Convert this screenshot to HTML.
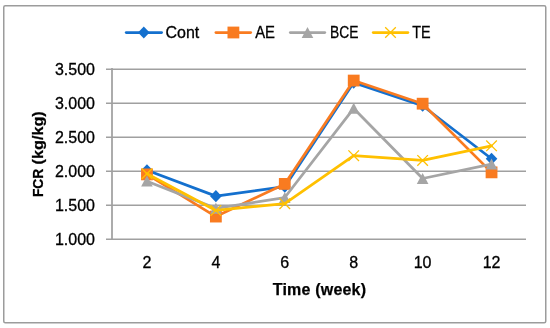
<!DOCTYPE html>
<html><head><meta charset="utf-8"><style>
html,body{margin:0;padding:0;background:#fff;}
svg{display:block;}
.t{font-family:"Liberation Sans",Arial,sans-serif;font-size:16px;fill:#000;stroke:#000;stroke-width:0.3px;}
.b{font-family:"Liberation Sans",Arial,sans-serif;font-size:15.5px;font-weight:bold;fill:#000;stroke:#000;stroke-width:0.25px;}
.x{letter-spacing:0.2px;font-size:16px;}
</style></head><body>
<svg width="550" height="328" viewBox="0 0 550 328">
<rect x="3.75" y="5.75" width="542" height="317" rx="1.5" fill="#fff" stroke="#9C9C9C" stroke-width="1.5"/>
<line x1="106" y1="69.20" x2="526.0" y2="69.20" stroke="#A0A0A0" stroke-width="1.55"/>
<text x="95" y="74.60" text-anchor="end" class="t">3.500</text>
<line x1="106" y1="103.20" x2="526.0" y2="103.20" stroke="#A0A0A0" stroke-width="1.55"/>
<text x="95" y="108.60" text-anchor="end" class="t">3.000</text>
<line x1="106" y1="137.20" x2="526.0" y2="137.20" stroke="#A0A0A0" stroke-width="1.55"/>
<text x="95" y="142.60" text-anchor="end" class="t">2.500</text>
<line x1="106" y1="171.20" x2="526.0" y2="171.20" stroke="#A0A0A0" stroke-width="1.55"/>
<text x="95" y="176.60" text-anchor="end" class="t">2.000</text>
<line x1="106" y1="205.20" x2="526.0" y2="205.20" stroke="#A0A0A0" stroke-width="1.55"/>
<text x="95" y="210.60" text-anchor="end" class="t">1.500</text>
<line x1="106" y1="239.20" x2="526.0" y2="239.20" stroke="#A0A0A0" stroke-width="1.55"/>
<text x="95" y="244.60" text-anchor="end" class="t">1.000</text>
<line x1="112" y1="68.10" x2="112" y2="239.90" stroke="#A0A0A0" stroke-width="1.75"/>
<text x="146.96" y="267.8" text-anchor="middle" class="t">2</text>
<text x="215.88" y="267.8" text-anchor="middle" class="t">4</text>
<text x="284.79" y="267.8" text-anchor="middle" class="t">6</text>
<text x="353.71" y="267.8" text-anchor="middle" class="t">8</text>
<text x="422.62" y="267.8" text-anchor="middle" class="t">10</text>
<text x="491.54" y="267.8" text-anchor="middle" class="t">12</text>
<polyline points="146.96,170.32 215.88,196.16 284.79,186.64 353.71,82.60 422.62,105.72 491.54,158.76" fill="none" stroke="#1470CE" stroke-width="2.75" stroke-linejoin="round" stroke-linecap="round"/>
<polygon points="146.96,164.22 152.76,170.32 146.96,176.42 141.16,170.32" fill="#1470CE"/>
<polygon points="215.88,190.06 221.68,196.16 215.88,202.26 210.07,196.16" fill="#1470CE"/>
<polygon points="284.79,180.54 290.59,186.64 284.79,192.74 278.99,186.64" fill="#1470CE"/>
<polygon points="353.71,76.50 359.51,82.60 353.71,88.70 347.91,82.60" fill="#1470CE"/>
<polygon points="422.62,99.62 428.43,105.72 422.62,111.82 416.82,105.72" fill="#1470CE"/>
<polygon points="491.54,152.66 497.34,158.76 491.54,164.86 485.74,158.76" fill="#1470CE"/>
<polyline points="146.96,174.40 215.88,216.56 284.79,183.92 353.71,80.56 422.62,103.68 491.54,172.36" fill="none" stroke="#F97B20" stroke-width="2.75" stroke-linejoin="round" stroke-linecap="round"/>
<rect x="141.06" y="168.50" width="11.8" height="11.8" fill="#F97B20"/>
<rect x="209.97" y="210.66" width="11.8" height="11.8" fill="#F97B20"/>
<rect x="278.89" y="178.02" width="11.8" height="11.8" fill="#F97B20"/>
<rect x="347.81" y="74.66" width="11.8" height="11.8" fill="#F97B20"/>
<rect x="416.73" y="97.78" width="11.8" height="11.8" fill="#F97B20"/>
<rect x="485.64" y="166.46" width="11.8" height="11.8" fill="#F97B20"/>
<polyline points="146.96,181.20 215.88,208.40 284.79,197.52 353.71,108.44 422.62,178.48 491.54,164.20" fill="none" stroke="#A5A5A5" stroke-width="2.75" stroke-linejoin="round" stroke-linecap="round"/>
<polygon points="146.96,175.60 152.76,186.60 141.16,186.60" fill="#A5A5A5"/>
<polygon points="215.88,202.80 221.68,213.80 210.07,213.80" fill="#A5A5A5"/>
<polygon points="284.79,191.92 290.59,202.92 278.99,202.92" fill="#A5A5A5"/>
<polygon points="353.71,102.84 359.51,113.84 347.91,113.84" fill="#A5A5A5"/>
<polygon points="422.62,172.88 428.43,183.88 416.82,183.88" fill="#A5A5A5"/>
<polygon points="491.54,158.60 497.34,169.60 485.74,169.60" fill="#A5A5A5"/>
<polyline points="146.96,173.72 215.88,210.44 284.79,203.64 353.71,155.70 422.62,160.46 491.54,145.84" fill="none" stroke="#FFC000" stroke-width="2.75" stroke-linejoin="round" stroke-linecap="round"/>
<path d="M141.66,168.42L152.26,179.02M152.26,168.42L141.66,179.02" stroke="#FFC000" stroke-width="1.3" fill="none"/>
<path d="M210.57,205.14L221.18,215.74M221.18,205.14L210.57,215.74" stroke="#FFC000" stroke-width="1.3" fill="none"/>
<path d="M279.49,198.34L290.09,208.94M290.09,198.34L279.49,208.94" stroke="#FFC000" stroke-width="1.3" fill="none"/>
<path d="M348.41,150.40L359.01,161.00M359.01,150.40L348.41,161.00" stroke="#FFC000" stroke-width="1.3" fill="none"/>
<path d="M417.32,155.16L427.93,165.76M427.93,155.16L417.32,165.76" stroke="#FFC000" stroke-width="1.3" fill="none"/>
<path d="M486.24,140.54L496.84,151.14M496.84,140.54L486.24,151.14" stroke="#FFC000" stroke-width="1.3" fill="none"/>
<line x1="126.2" y1="32.5" x2="161.6" y2="32.5" stroke="#1470CE" stroke-width="2.75" stroke-linecap="round"/>
<polygon points="143.80,26.40 149.60,32.50 143.80,38.60 138.00,32.50" fill="#1470CE"/>
<text transform="translate(165.5,38) scale(1.0,1)" class="t">Cont</text>
<line x1="215.9" y1="32.5" x2="250.7" y2="32.5" stroke="#F97B20" stroke-width="2.75" stroke-linecap="round"/>
<rect x="227.50" y="26.60" width="11.8" height="11.8" fill="#F97B20"/>
<text transform="translate(255.2,38) scale(0.93,1)" class="t">AE</text>
<line x1="290.3" y1="32.5" x2="324.8" y2="32.5" stroke="#A5A5A5" stroke-width="2.75" stroke-linecap="round"/>
<polygon points="307.50,26.90 313.30,37.90 301.70,37.90" fill="#A5A5A5"/>
<text transform="translate(330.0,38) scale(0.865,1)" class="t">BCE</text>
<line x1="373.2" y1="32.5" x2="407.9" y2="32.5" stroke="#FFC000" stroke-width="2.75" stroke-linecap="round"/>
<path d="M385.20,27.20L395.80,37.80M395.80,27.20L385.20,37.80" stroke="#FFC000" stroke-width="1.3" fill="none"/>
<text transform="translate(412.2,38) scale(0.9,1)" class="t">TE</text>
<text x="319.5" y="295.3" text-anchor="middle" class="b x">Time (week)</text>
<text transform="translate(43.3,197.1) rotate(-90) scale(0.89,1)" class="b">FCR</text>
<text transform="translate(43.3,164.4) rotate(-90) scale(1.045,1)" class="b">(kg/kg)</text>
</svg>
</body></html>
